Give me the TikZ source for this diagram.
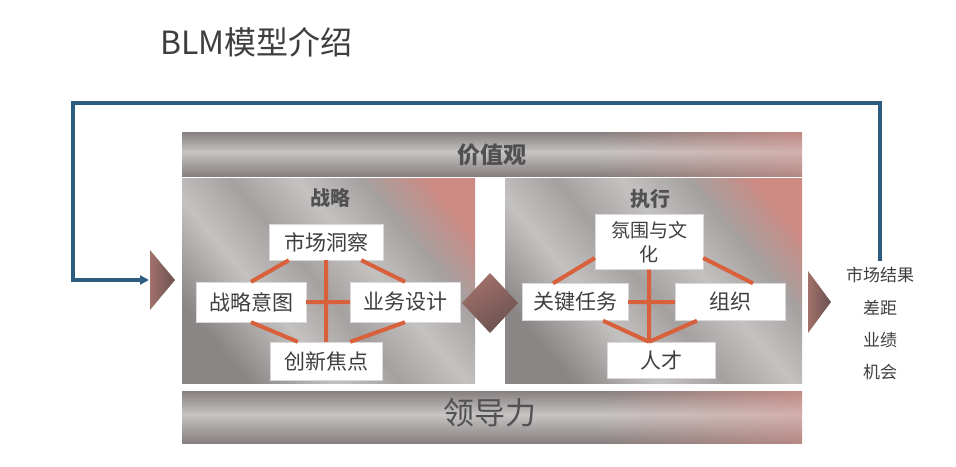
\documentclass[tikz,border=0pt]{standalone}
\usepackage{fontspec}
\setmainfont{Noto Sans CJK SC}
\usetikzlibrary{positioning}
\usetikzlibrary{arrows.meta}
\usetikzlibrary{shadings}

\definecolor{linkorange}{HTML}{D8603A}
\definecolor{loopblue}{HTML}{2C5C80}
\definecolor{textgray}{HTML}{3E3E3E}
\definecolor{bardark}{HTML}{878080}
\definecolor{barlight}{HTML}{C6C3C3}
\definecolor{barpink}{HTML}{C08A84}
\definecolor{barpinklight}{HTML}{D2B0AC}
\definecolor{barmid}{HTML}{A6A1A1}
\definecolor{boxdark}{HTML}{8B8686}
\definecolor{boxlight}{HTML}{C4C1C1}
\definecolor{boxpink}{HTML}{CC8A82}
\definecolor{tripink}{HTML}{A2706A}
\definecolor{tridark}{HTML}{6A5250}

\pgfdeclarehorizontalshading{boxmetal}{100bp}{color(0bp)=(boxdark); color(25bp)=(boxdark);
  color(38bp)=(boxlight); color(48bp)=(barmid); color(58bp)=(boxlight); color(68bp)=(barmid);
  color(78bp)=(boxpink); color(100bp)=(boxpink)}

\begin{document}
\begin{tikzpicture}[x=1pt,y=-1pt,on grid,
    stepbox/.style={draw=gray!30, fill=white, inner sep=0pt, minimum width=110pt, minimum height=38pt,
      text=textgray, font=\fontsize{21}{23}\selectfont},
    link/.style={draw=linkorange, line width=4pt},
    headline/.style={text=textgray!90, font=\fontsize{20}{22}\selectfont\bfseries},
    result/.style={text=textgray, font=\fontsize{17}{19}\selectfont},
    feedback/.style={draw=loopblue, line width=3.2pt, -{Triangle[length=9pt,width=9pt]}}]
  \useasboundingbox (0,0) rectangle (956,466);

  % title
  \node[anchor=west, text=textgray, font=\fontsize{32}{34}\selectfont] (title) at (157,42) {BLM模型介绍};

  % bars and frames
  \foreach \top/\bot in {132/176, 391/443} {
    \pgfmathsetmacro{\mid}{\top+0.45*(\bot-\top)}
    \shade[top color=bardark, bottom color=barlight] (182,\top) rectangle (600,\mid);
    \shade[top color=barlight, bottom color=bardark] (182,\mid) rectangle (600,\bot);
    \shade[upper left=bardark, upper right=barpink, lower left=barlight, lower right=barpinklight]
      (599.5,\top) rectangle (802,\mid);
    \shade[upper left=barlight, upper right=barpinklight, lower left=bardark, lower right=barpink!80!bardark]
      (599.5,\mid) rectangle (802,\bot);
  }
  \shade[shading=boxmetal, shading angle=40] (182,178) rectangle (475,383);
  \shade[shading=boxmetal, shading angle=40] (505,178) rectangle (802,383);

  \node[text=textgray!90, font=\fontsize{23}{25}\selectfont\bfseries] (values) at (492,155) {价值观};
  \node[text=textgray!90, font=\fontsize{31}{33}\selectfont] (leader) at (490,413) {领导力};
  \node[headline] (strategy) at (330,198) {战略};
  \node[headline] (execution) at (650,199) {执行};

  % triangles and diamond
  \shade[left color=tripink, right color=tridark] (150,250) -- (175,280) -- (150,310) -- cycle;
  \shade[left color=tripink, right color=tridark, shading angle=30] (462,303) -- (490,273) -- (518,303) -- (490,333) -- cycle;
  \shade[left color=tripink, right color=tridark] (808,271) -- (831,302) -- (808,333) -- cycle;
  \coordinate (intri) at (149,280);
  \coordinate (loop) at (73,103);

  % strategy
  \node[stepbox, minimum width=114pt, minimum height=36pt] (mi) at (326,242) {市场洞察};
  \node[stepbox, minimum height=40pt, below left=60pt and 75pt of mi] (si) {战略意图};
  \node[stepbox, minimum height=40pt, below right=60pt and 79pt of mi] (bd) {业务设计};
  \node[stepbox, minimum width=112pt, below=119pt of mi] (inf) {创新焦点};

  \path[link] (mi.south) -- (inf.north)
              (si.east) -- (bd.west)
              (si.north) -- ([xshift=20pt]mi.south west)
              (bd.north) -- ([xshift=-22pt]mi.south east)
              (si.south) -- ([xshift=28pt]inf.north west)
              (bd.south) -- ([xshift=-32pt]inf.north east);

  % execution
  \node[stepbox, minimum width=108pt, minimum height=55pt, align=center,
        font=\fontsize{19}{24}\selectfont] (atm) at (649,242) {氛围与文\\化};
  \node[stepbox, minimum width=106pt, minimum height=37pt, below left=60pt and 74pt of atm] (kt) {关键任务};
  \node[stepbox, minimum height=37pt, below right=60pt and 81pt of atm] (org) {组织};
  \node[stepbox, minimum width=108pt, minimum height=36pt, below right=118pt and 12pt of atm] (tal) {人才};

  \path[link] (atm.south) -- (atm.south |- tal.north)
              (kt.east) -- (org.west)
              ([xshift=-22pt]kt.north) -- ([yshift=-16pt]atm.west)
              ([xshift=23pt]org.north) -- ([yshift=-16pt]atm.east)
              ([xshift=28pt]kt.south) -- (atm.south |- tal.north)
              ([xshift=-33pt]org.south) -- (atm.south |- tal.north);

  % results
  \node[result] (res1) at (880,275) {市场结果};
  \node[result, below=33pt of res1] (res2) {差距};
  \node[result, below=32pt of res2] (res3) {业绩};
  \node[result, below=32pt of res3] (res4) {机会};

  \draw[feedback, shorten <=3pt] (res1.north) |- (loop) |- (intri);
\end{tikzpicture}
\end{document}
